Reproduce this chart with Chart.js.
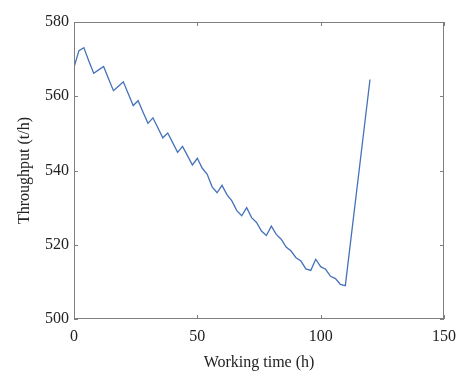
<!DOCTYPE html>
<html>
<head>
<meta charset="utf-8">
<script src="https://cdn.jsdelivr.net/npm/chart.js@4.4.1/dist/chart.umd.min.js"></script>
<style>
  html, body { margin: 0; padding: 0; background: #fff; }
  #wrap { width: 474px; height: 387px; position: relative; }
</style>
</head>
<body>
<div id="wrap"><canvas id="chart"></canvas></div>
<script>
// ---- Data ----
const hours = [0, 2, 4, 6, 8, 10, 12, 14, 16, 18, 20, 22, 24, 26, 28, 30, 32, 34, 36, 38,
    40, 42, 44, 46, 48, 50, 52, 54, 56, 58, 60, 62, 64, 66, 68, 70, 72, 74, 76, 78,
    80, 82, 84, 86, 88, 90, 92, 94, 96, 98, 100, 102, 104, 106, 108, 110, 120];
const throughput = [567.8, 572.3, 573.1, 569.5, 566.2, 567.1, 568.0, 564.7, 561.5, 562.7,
    563.9, 560.7, 557.5, 558.8, 555.7, 552.7, 554.2, 551.5, 548.8, 550.1,
    547.5, 544.9, 546.5, 544.0, 541.5, 543.3, 540.6, 539.0, 535.6, 534.0,
    536.0, 533.5, 531.8, 529.2, 527.8, 530.0, 527.3, 526.0, 523.7, 522.5,
    525.0, 522.8, 521.5, 519.4, 518.3, 516.5, 515.6, 513.5, 513.1, 516.1,
    514.1, 513.4, 511.5, 510.9, 509.3, 509.0, 564.5];
const xTicks = [0, 50, 100, 150];
const yTicks = [500, 520, 540, 560, 580];

const AXIS = '#7f7f7f';
const FONT = "'Liberation Serif', 'Times New Roman', serif";

// ---- Frame + inward ticks (MATLAB style) ----
const framePlugin = {
    id: 'frame',
    afterDatasetsDraw(chart) {
        const { ctx, chartArea: a, scales: { x, y } } = chart;
        ctx.save();
        ctx.strokeStyle = AXIS;
        ctx.lineWidth = 1;
        ctx.strokeRect(a.left + 0.5, a.top + 0.5, a.right - a.left - 1, a.bottom - a.top - 1);
        ctx.beginPath();
        xTicks.forEach(v => {
            const px = Math.round(x.getPixelForValue(v)) + 0.5;
            ctx.moveTo(px, a.bottom); ctx.lineTo(px, a.bottom - 4);
            ctx.moveTo(px, a.top); ctx.lineTo(px, a.top + 4);
        });
        yTicks.forEach(v => {
            const py = Math.round(y.getPixelForValue(v)) + 0.5;
            ctx.moveTo(a.left, py); ctx.lineTo(a.left + 4, py);
            ctx.moveTo(a.right, py); ctx.lineTo(a.right - 4, py);
        });
        ctx.stroke();
        ctx.restore();
    },
};

new Chart(document.getElementById('chart'), {
    type: 'line',
    data: {
        datasets: [{
            data: hours.map((h, i) => ({ x: h, y: throughput[i] })),
            borderColor: '#4572b9',
            borderWidth: 1.3,
            pointRadius: 0,
            tension: 0,
            fill: false,
        }],
    },
    options: {
        responsive: true,
        maintainAspectRatio: false,
        animation: false,
        layout: { padding: { left: 0, top: 22, right: 30, bottom: 0 } },
        plugins: { legend: { display: false }, tooltip: { enabled: false } },
        scales: {
            x: {
                type: 'linear',
                min: 0, max: 150,
                afterBuildTicks: (s) => { s.ticks = xTicks.map(v => ({ value: v })); },
                afterFit: (s) => { s.height = 68; },
                grid: { display: false, drawTicks: false },
                border: { display: false },
                ticks: { color: '#222', font: { family: FONT, size: 16 }, padding: 8, maxRotation: 0 },
                title: { display: true, text: 'Working time (h)', color: '#222',
                    font: { family: FONT, size: 16 }, padding: { top: 8, bottom: 15 } },
            },
            y: {
                min: 500, max: 580,
                afterBuildTicks: (s) => { s.ticks = yTicks.map(v => ({ value: v })); },
                afterFit: (s) => { s.width = 74; },
                grid: { display: false, drawTicks: false },
                border: { display: false },
                ticks: { color: '#222', font: { family: FONT, size: 16 }, padding: 5 },
                title: { display: true, text: 'Throughput (t/h)', color: '#222',
                    font: { family: FONT, size: 16 }, padding: { top: 15.5 } },
            },
        },
    },
    plugins: [framePlugin],
});
</script>
</body>
</html>
